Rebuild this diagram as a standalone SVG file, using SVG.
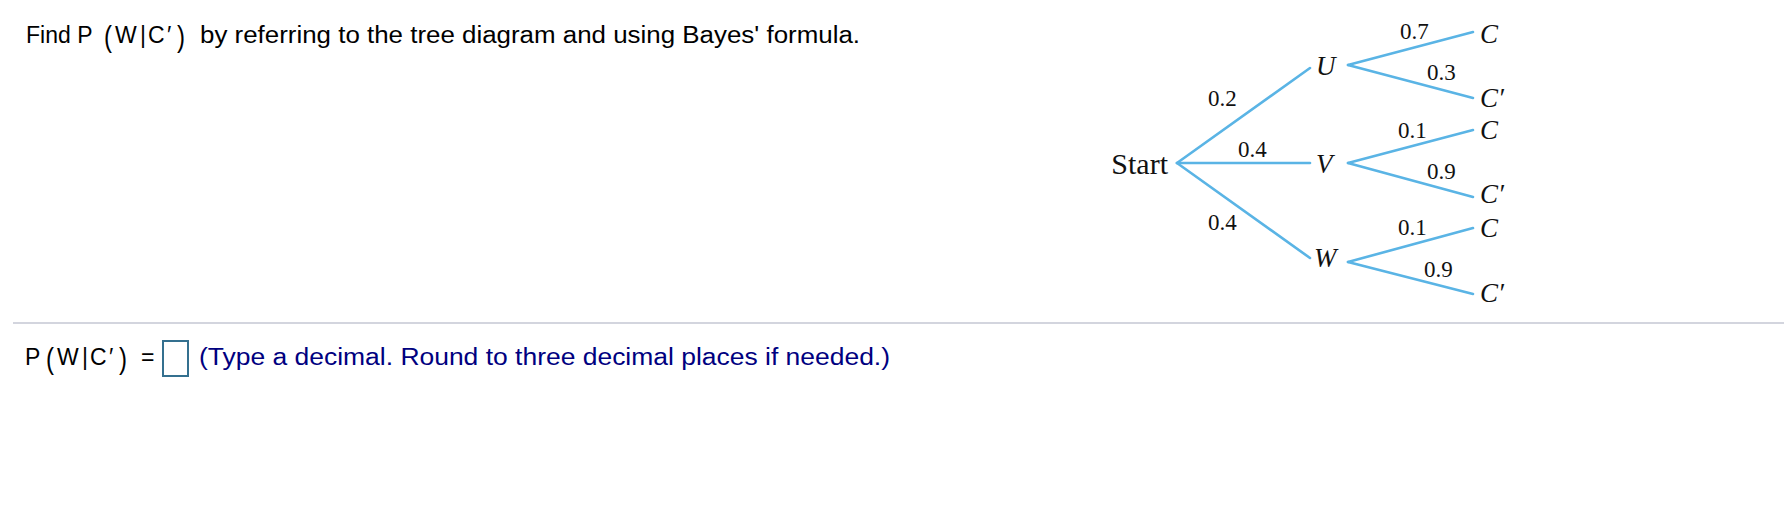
<svg xmlns="http://www.w3.org/2000/svg" width="1784" height="524" viewBox="0 0 1784 524">
<style>
.q{font-family:"Liberation Sans",Arial,sans-serif;font-size:23px;fill:#000}
.a{font-family:"Liberation Sans",Arial,sans-serif;font-size:23px;fill:#000080}
.p{font-family:"Liberation Sans",Arial,sans-serif;font-size:30px;fill:#000}
.t{font-family:"Liberation Serif","Times New Roman",serif;fill:#111}
.num{font-size:23px}
.lab{font-size:27px;font-style:italic}
.st{font-size:30px}
.edge{stroke:#5ab4e5;stroke-width:2.6;fill:none;stroke-linecap:round}
</style>
<rect width="1784" height="524" fill="#fff"/>
<g id="question">
<text class="q" x="26" y="43">Find P</text>
<text class="p" x="104" y="47" textLength="8" lengthAdjust="spacingAndGlyphs">(</text>
<text class="q" x="115" y="43">W</text>
<text class="q" x="140" y="43">|</text>
<text class="q" x="148" y="43">C</text>
<text class="q" x="167" y="43">′</text>
<text class="p" x="177" y="47" textLength="8" lengthAdjust="spacingAndGlyphs">)</text>
<text class="q" x="200" y="43" textLength="660" lengthAdjust="spacingAndGlyphs">by referring to the tree diagram and using Bayes' formula.</text>
</g>
<line x1="13" y1="323" x2="1784" y2="323" stroke="#d3d5de" stroke-width="2"/>
<g id="answer">
<text class="q" x="25" y="365">P</text>
<text class="p" x="46" y="369" textLength="8" lengthAdjust="spacingAndGlyphs">(</text>
<text class="q" x="57" y="365">W</text>
<text class="q" x="82" y="365">|</text>
<text class="q" x="90" y="365">C</text>
<text class="q" x="109" y="365">′</text>
<text class="p" x="119" y="369" textLength="8" lengthAdjust="spacingAndGlyphs">)</text>
<text class="q" x="141" y="365">=</text>
<rect x="163" y="341" width="25" height="35" fill="#fff" stroke="#34708f" stroke-width="2"/>
<text class="a" x="199" y="365" textLength="691" lengthAdjust="spacingAndGlyphs">(Type a decimal. Round to three decimal places if needed.)</text>
</g>
<g id="connectors">
<line class="edge" x1="1177" y1="163" x2="1310" y2="68"/>
<line class="edge" x1="1177" y1="163" x2="1310" y2="163"/>
<line class="edge" x1="1177" y1="163" x2="1310" y2="258"/>
<line class="edge" x1="1348" y1="65" x2="1473" y2="32"/>
<line class="edge" x1="1348" y1="65" x2="1473" y2="98"/>
<line class="edge" x1="1348" y1="163" x2="1473" y2="130"/>
<line class="edge" x1="1348" y1="163" x2="1473" y2="197"/>
<line class="edge" x1="1348" y1="262" x2="1473" y2="228"/>
<line class="edge" x1="1348" y1="262" x2="1473" y2="294"/>
</g>
<g id="edge-labels" class="t num">
<text x="1208" y="106">0.2</text>
<text x="1238" y="157">0.4</text>
<text x="1208" y="230">0.4</text>
<text x="1400" y="39">0.7</text>
<text x="1427" y="80">0.3</text>
<text x="1398" y="138">0.1</text>
<text x="1427" y="179">0.9</text>
<text x="1398" y="235">0.1</text>
<text x="1424" y="277">0.9</text>
</g>
<g id="node-start"><text class="t st" x="1168" y="174" text-anchor="end">Start</text></g>
<g id="node-U"><text class="t lab" x="1316" y="75">U</text></g>
<g id="node-V"><text class="t lab" x="1316" y="173">V</text></g>
<g id="node-W"><text class="t lab" x="1314" y="267">W</text></g>
<g id="node-UC"><text class="t lab" x="1480" y="43">C</text></g>
<g id="node-UC2"><text class="t lab" x="1480" y="107">C′</text></g>
<g id="node-VC"><text class="t lab" x="1480" y="139">C</text></g>
<g id="node-VC2"><text class="t lab" x="1480" y="203">C′</text></g>
<g id="node-WC"><text class="t lab" x="1480" y="237">C</text></g>
<g id="node-WC2"><text class="t lab" x="1480" y="302">C′</text></g>
</svg>
